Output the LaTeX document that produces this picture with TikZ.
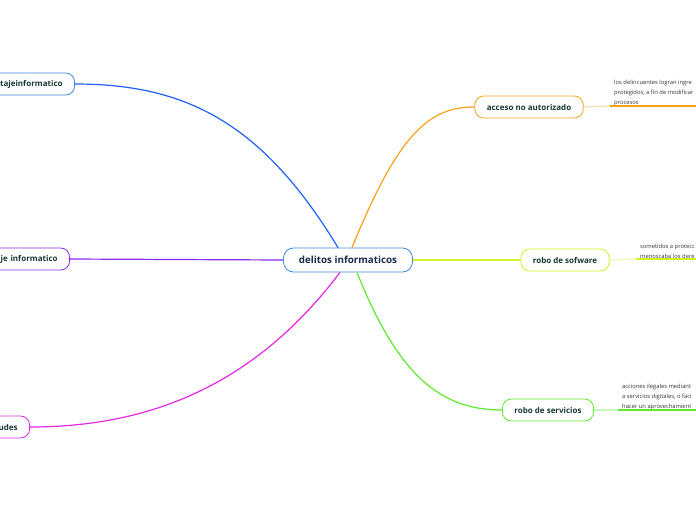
\documentclass[tikz,border=0pt]{standalone}
\usepackage{fontspec}
\setmainfont{Open Sans}
\usepackage{tikz}
\usetikzlibrary{calc,positioning}
\definecolor{blauAst}{HTML}{1F5FFF}
\definecolor{rahmenBlau}{HTML}{3D8BD8}
\definecolor{lilaAst}{HTML}{8A2BF0}
\definecolor{pinkAst}{HTML}{E526E5}
\definecolor{orangeAst}{HTML}{F7A21B}
\definecolor{gelbAst}{HTML}{D6F226}
\definecolor{gruenAst}{HTML}{5EEB2E}
\definecolor{schrift}{HTML}{173A36}
\definecolor{schriftZ}{HTML}{1B2A4C}
\tikzset{
  zentrum/.style={draw=rahmenBlau,line width=0.8pt,rounded corners=10pt,fill=white,
    minimum width=129pt,minimum height=24pt,text=schriftZ,font=\bfseries\fontsize{9.8}{11}\selectfont},
  ast/.style={draw=#1,line width=0.8pt,rounded corners=9pt,fill=white,minimum height=22pt,
    inner xsep=12pt,text=schrift,font=\bfseries\fontsize{8}{9}\selectfont},
  randast/.style={ast=#1,anchor=east,align=right,text width=100pt},
  notiz/.style={anchor=south west,align=left,inner xsep=4pt,inner ysep=0pt,
    text=black!80,font=\fontsize{5.8}{10}\selectfont},
  linie/.style={draw=#1,line width=1.2pt},
  leicht/.style={draw=#1!35,line width=1.2pt},
  unterstrich/.style={draw=#1,line width=2pt}
}
\begin{document}
\begin{tikzpicture}[x=1pt,y=-1pt]
\useasboundingbox[fill=white] (0,0) rectangle (696,520);
%Mitte
\node[zentrum] (delitos) at (348,260) {delitos informaticos};
%rechte Seite
\node[ast=orangeAst] (acceso) at (529,107) {acceso no autorizado};
\node[ast=gelbAst] (sofware) at (565,260) {robo de sofware};
\node[ast=gruenAst] (servicios) at (548,410) {robo de servicios};
%linke Seite, Kasten laeuft ueber den Rand hinaus
\node[randast=rahmenBlau] (sabotaje) at (75,84) {tajeinformatico};
\node[randast=lilaAst] (espionaje) at (70,259) {je informatico};
\node[randast=pinkAst] (fraudes) at (30,427) {udes};
%Notizen
\node[notiz] (notizA) at (610,106) {los delincuentes logran ingre\\protegidos, a fin de modificar\\procesos};
\node[notiz] (notizB) at (636,259) {sometidos a protecc\\menoscaba los dere};
\node[notiz] (notizC) at (618,410) {acciones ilegales mediant\\a servicios digitales, o faci\\hacer un aprovechamient};
\draw[linie=blauAst] ([xshift=-10pt]delitos.north) .. controls (262,122) and (185,84) .. (sabotaje.east);
\draw[linie=orangeAst] ([xshift=4pt]delitos.north) .. controls (398,135) and (428,107) .. (acceso.west);
\draw[linie=lilaAst] (delitos.west) -- (espionaje.east);
\draw[linie=gelbAst] (delitos.east) -- (sofware.west);
\draw[linie=pinkAst] ([xshift=-8pt]delitos.south) .. controls (255,385) and (150,427) .. (fraudes.east);
\draw[linie=gruenAst] ([xshift=9pt]delitos.south) .. controls (398,375) and (440,410) .. (servicios.west);
\draw[leicht=orangeAst] (acceso.east) -- (notizA.south west);
\draw[leicht=gelbAst] (sofware.east) -- (notizB.south west);
\draw[leicht=gruenAst] (servicios.east) -- (notizC.south west);
\foreach \n/\f in {notizA/orangeAst,notizB/gelbAst,notizC/gruenAst}{
  \draw[unterstrich=\f] (\n.south west) -- ([xshift=100pt]\n.south west);
}
\end{tikzpicture}
\end{document}
